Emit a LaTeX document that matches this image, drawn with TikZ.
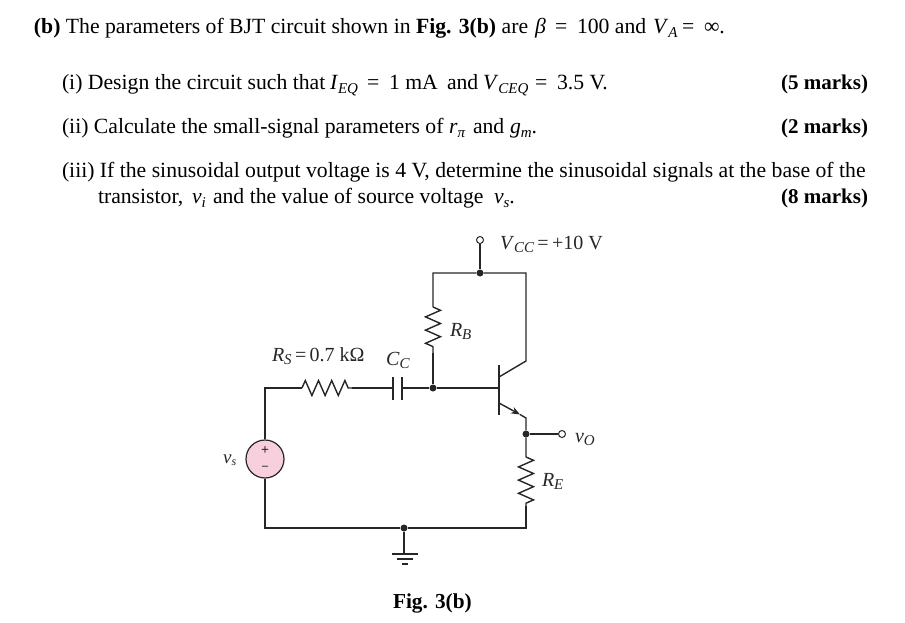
\documentclass[tikz,border=0pt]{standalone}
\usepackage{fontspec}
\setmainfont{Liberation Serif}
\usetikzlibrary{decorations.pathmorphing,arrows.meta}
\definecolor{ink}{HTML}{262626}
\definecolor{srcfill}{HTML}{F8CFDD}
\newcommand{\lowsub}[1]{\raisebox{-4pt}{\fontsize{15}{15}\selectfont\itshape #1}}
\newcommand{\clsub}[1]{\raisebox{-3.5pt}{\fontsize{15}{15}\selectfont\itshape #1}}
\tikzset{
  x=1pt,y=-1pt,
  body/.style={anchor=base west,inner sep=0pt,outer sep=0pt,font=\fontsize{21.7}{24}\selectfont,text=black},
  marks/.style={anchor=base east,inner sep=0pt,outer sep=0pt,font=\fontsize{21}{24}\selectfont\bfseries,text=black},
  clabel/.style={anchor=base west,inner sep=0pt,outer sep=0pt,font=\fontsize{20}{22}\selectfont,text=ink},
  wire/.style={draw=ink,line width=1.4pt,line join=miter},
  dotnode/.style={circle,fill=ink,inner sep=0pt,minimum size=7pt},
  termnode/.style={circle,draw=ink,fill=white,line width=1pt,inner sep=0pt,minimum size=7pt},
  resistor/.style={wire,decorate,decoration={zigzag,amplitude=7.5pt,segment length=13.2pt}}
}
\begin{document}
\begin{tikzpicture}
\useasboundingbox (0,0) rectangle (905,623);
% question text
\node[body] (t1a) at (34,34) {\textbf{(b)} The parameters of BJT circuit shown in \textbf{Fig. 3(b)} are};
\node[body] (t1b) at (535,34) {\textit{β}};
\node[body] (t1c) at (555,34) {=};
\node[body] (t1d) at (577,34) {100 and};
\node[body] (t1e) at (653,34) {\textit{V}\lowsub{A}};
\node[body] (t1f) at (682,34) {=};
\node[body] (t1g) at (704,34) {∞.};
\node[body] (t2a) at (62,90) {(i) Design the circuit such that};
\node[body] (t2b) at (330,90) {\textit{I}\lowsub{EQ}};
\node[body] (t2c) at (367,90) {=};
\node[body] (t2d) at (389,90) {1 mA};
\node[body] (t2e) at (447,90) {and};
\node[body] (t2f) at (483,90) {\textit{V}\lowsub{CEQ}};
\node[body] (t2g) at (535,90) {=};
\node[body] (t2h) at (557,90) {3.5 V.};
\node[marks] (m2) at (868,90) {(5 marks)};
\node[body] (t3a) at (62,134) {(ii) Calculate the small-signal parameters of};
\node[body] (t3b) at (449,134) {\textit{r}\lowsub{π}};
\node[body] (t3c) at (473,134) {and};
\node[body] (t3d) at (510,134) {\textit{g}\lowsub{m}.};
\node[marks] (m3) at (868,134) {(2 marks)};
\node[body] (t4) at (62,177) {(iii) If the sinusoidal output voltage is 4 V, determine the sinusoidal signals at the base of the};
\node[body] (t5a) at (98,204) {transistor,};
\node[body] (t5b) at (192,204) {\textit{v}\lowsub{i}};
\node[body] (t5c) at (213,204) {and the value of source voltage};
\node[body] (t5d) at (494,204) {\textit{v}\lowsub{s}.};
\node[marks] (m5) at (868,204) {(8 marks)};
% nodes
\node[termnode] (vcc) at (480,240) {};
\node[dotnode] (jtop) at (480,273) {};
\node[dotnode] (jbase) at (433,388) {};
\node[dotnode] (jout) at (526,434) {};
\node[termnode] (vo) at (562,434) {};
\node[dotnode] (jgnd) at (404,528) {};
\node[circle,draw=ink,fill=srcfill,line width=1.2pt,inner sep=0pt,minimum size=38pt] (src) at (265,459) {};
\coordinate (tl) at (433,273);
\coordinate (tr) at (526,273);
\coordinate (cend) at (526,361);
\coordinate (cbar) at (499,377);
\coordinate (ebar) at (499,403);
\coordinate (eend) at (526,418);
\coordinate (earrow) at (520,414.5);
\coordinate (bbar) at (499,388);
\coordinate (bt) at (499,365);
\coordinate (bb) at (499,415);
\coordinate (rbT) at (433,307);
\coordinate (rbB) at (433,353);
\coordinate (reT) at (526,457);
\coordinate (reB) at (526,506);
\coordinate (br) at (526,528);
\coordinate (bl) at (265,528);
\coordinate (il) at (265,388);
\coordinate (rsL) at (302,388);
\coordinate (rsR) at (352,388);
\coordinate (capL) at (393,388);
\coordinate (capR) at (402,388);
\coordinate (capLt) at (393,377);
\coordinate (capLb) at (393,400);
\coordinate (capRt) at (402,377);
\coordinate (capRb) at (402,400);
\coordinate (g0) at (404,554);
\coordinate (g1a) at (392,554);
\coordinate (g1b) at (418,554);
\coordinate (g2a) at (397,559);
\coordinate (g2b) at (413,559);
\coordinate (g3a) at (402,564);
\coordinate (g3b) at (408,564);
% wires
\draw[wire] (vcc) -- (jtop);
\draw[wire] (rbT) -- (tl) -- (jtop) -- (tr) -- (cend) -- (cbar);
\draw[resistor] (rbT) -- (rbB);
\draw[wire] (rbB) -- (jbase);
\draw[wire] (jbase) -- (bbar);
\draw[wire,line width=1.8pt] (bt) -- (bb);
\draw[wire,-{Stealth[length=9pt,width=7pt]}] (ebar) -- (earrow);
\draw[wire] (earrow) -- (eend) -- (jout) -- (reT);
\draw[wire] (jout) -- (vo);
\draw[resistor] (reT) -- (reB);
\draw[wire] (reB) -- (br) -- (jgnd) -- (bl) -- (src);
\draw[wire] (src) -- (il) -- (rsL);
\draw[resistor] (rsL) -- (rsR);
\draw[wire] (rsR) -- (capL);
\draw[wire] (capR) -- (jbase);
\draw[wire] (capLt) -- (capLb);
\draw[wire] (capRt) -- (capRb);
\draw[wire] (jgnd) -- (g0);
\draw[wire] (g1a) -- (g1b);
\draw[wire] (g2a) -- (g2b);
\draw[wire,line width=1.8pt] (g3a) -- (g3b);
% labels
\node[clabel] (lvcc) at (500,249) {\textit{V}\clsub{CC}\,=\,+10 V};
\node[clabel] (lrb) at (450,336) {\textit{R}\clsub{B}};
\node[clabel] (lrs) at (272,361) {\textit{R}\clsub{S}\,=\,0.7 kΩ};
\node[clabel] (lcc) at (386,365) {\textit{C}\clsub{C}};
\node[clabel] (lvo) at (575,442) {\textit{v}\clsub{O}};
\node[clabel] (lre) at (542,486) {\textit{R}\clsub{E}};
\node[anchor=base west,inner sep=0pt,font=\fontsize{19}{20}\selectfont\itshape,text=ink] (lvs) at (223,463) {v\raisebox{-2.5pt}{\fontsize{12}{12}\selectfont s}};
\node[inner sep=0pt,font=\fontsize{14}{14}\selectfont\bfseries,text=ink] (plus) at (265,450.5) {+};
\node[inner sep=0pt,font=\fontsize{12}{12}\selectfont\bfseries,text=ink] (minus) at (265,468) {–};
\node[body,font=\fontsize{21.3}{24}\selectfont\bfseries] (fig) at (393,608) {Fig. 3(b)};
\end{tikzpicture}
\end{document}
